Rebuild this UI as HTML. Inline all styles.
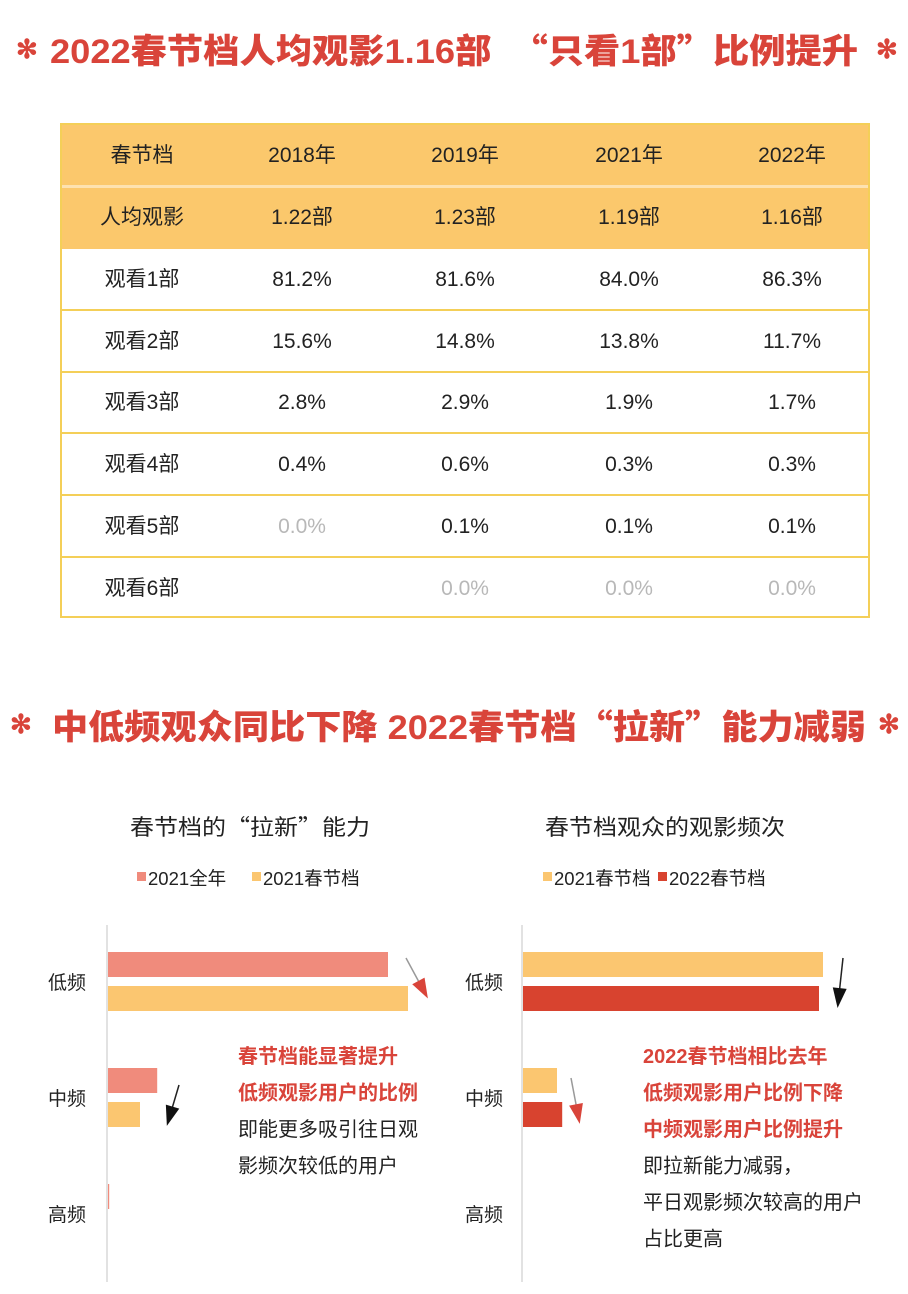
<!DOCTYPE html>
<html><head><meta charset="utf-8">
<style>
*{margin:0;padding:0;box-sizing:border-box}
body{width:908px;height:1294px;background:#fff;position:relative;overflow:hidden;font-family:"Liberation Sans","Noto Sans CJK SC",sans-serif;color:#222}
.abs{position:absolute;white-space:nowrap}
.title{font-weight:900;color:#d9443a;font-size:34px;transform-origin:0 0;font-family:"Liberation Sans","Noto Sans CJK SC",sans-serif}
.q{font-family:"Noto Sans CJK SC",sans-serif}
.star{color:#d9443a;font-size:26px;font-weight:700}
.cell{position:absolute;text-align:center;font-size:21px;line-height:61px;color:#222}
.gray{color:#b8b8b8}
</style></head><body>
<div class="abs star" style="left:16px;top:34px">✻</div>
<div class="abs title" id="t1" style="left:50px;top:24px">2022春节档人均观影1.16部 &nbsp;<span class="q">“</span>只看1部<span class="q">”</span>比例提升</div>
<div class="abs star" style="left:876px;top:34px">✻</div>

<div id="table" style="position:absolute;left:60px;top:123px;width:810px;height:495px;border:2px solid #f4cf58"></div>

<div class="abs star" style="left:10px;top:709px">✻</div>
<div class="abs title" id="t2" style="left:52px;top:700px">中低频观众同比下降 2022春节档<span class="q">“</span>拉新<span class="q">”</span>能力减弱</div>
<div class="abs star" style="left:878px;top:709px">✻</div>

<svg id="chart" width="908" height="1294" style="position:absolute;left:0;top:0"></svg>

<script>
// table data
const headers=["春节档","2018年","2019年","2021年","2022年"];
const rowLabels=["人均观影","观看1部","观看2部","观看3部","观看4部","观看5部","观看6部"];
const tableValues=[
 ["1.22部","1.23部","1.19部","1.16部"],
 ["81.2%","81.6%","84.0%","86.3%"],
 ["15.6%","14.8%","13.8%","11.7%"],
 ["2.8%","2.9%","1.9%","1.7%"],
 ["0.4%","0.6%","0.3%","0.3%"],
 ["0.0%","0.1%","0.1%","0.1%"],
 ["","0.0%","0.0%","0.0%"]];
// left chart data
const categories=["低频","中频","高频"];
const leftSeriesNames=["2021全年","2021春节档"];
const leftA=[70,12.3,0.3];
const leftB=[75,8,0];
// right chart data
const rightSeriesNames=["2021春节档","2022春节档"];
const rightA=[75,8.5,0];
const rightB=[74,9.8,0];

function fit(id,w){const e=document.getElementById(id);const cw=e.getBoundingClientRect().width;e.style.transform='scaleX('+(w/cw)+')';}
fit('t1',808);fit('t2',814);

const tbl=document.getElementById('table');
const colC=[80,240,403,567,730];
function addCell(txt,x,y,cls,name){
 const d=document.createElement('div');
 d.className='cell '+(cls||'');
 d.style.left=(x-80)+'px';d.style.width='160px';d.style.top=y+'px';
 d.textContent=txt;
 
 
 tbl.appendChild(d);
}
const hb=document.createElement('div');
hb.style.cssText='position:absolute;left:0;top:0;width:806px;height:124px;background:#fbc86c';


tbl.appendChild(hb);
const sep=document.createElement('div');
sep.style.cssText='position:absolute;left:0;top:60px;width:806px;height:3px;background:#fde2b0';


tbl.appendChild(sep);
headers.forEach((h,i)=>addCell(h,colC[i],0,'','header-'+i));
let y=62;
rowLabels.forEach((lab,r)=>{
 addCell(lab,colC[0],y,'','row-label-'+r);
 tableValues[r].forEach((v,c)=>addCell(v,colC[c+1],y,(v==="0.0%")?'gray':'','cell-'+r+'-'+c));
 if(r>=1&&r<6){const l=document.createElement('div');
  l.style.cssText='position:absolute;left:0;width:806px;height:2px;background:#f4cf58;top:'+(y+60)+'px';
  
  
  tbl.appendChild(l);}
 y+=r==0?62:61.7;
});

const svg=document.getElementById('chart');
const NS='http://www.w3.org/2000/svg';
function el(tag,attrs,name,txt){const e=document.createElementNS(NS,tag);for(const k in attrs)e.setAttribute(k,attrs[k]);
 
 
 if(txt!==undefined)e.textContent=txt;svg.appendChild(e);return e;}
const scale=4;
const catY=[952,1068,1184];
const CJK='"Noto Sans CJK SC","Liberation Sans",sans-serif';
function drawChart(x0,labelX,title,titleX,titleW,names,colors,legX,A,B,pfx){
 el('text',{x:titleX,y:835,'font-size':22,fill:'#222','font-family':CJK,textLength:titleW,lengthAdjust:'spacingAndGlyphs'},pfx+'-title',title);
 let lx=legX;
 names.forEach((n,i)=>{
  el('rect',{x:lx,y:872,width:9,height:9,fill:colors[i]},pfx+'-legend-swatch-'+i);
  el('text',{x:lx+11,y:885,'font-size':18.5,fill:'#222'},pfx+'-legend-'+i,n);
  lx+=n.length>7?140:115;
 });
 el('line',{x1:x0,y1:925,x2:x0,y2:1282,stroke:'#e2e2e2','stroke-width':2},pfx+'-axis');
 categories.forEach((c,i)=>{
  el('text',{x:labelX,y:catY[i]+37,'font-size':19,fill:'#222'},pfx+'-cat-'+i,c);
  if(A[i]>0)el('rect',{x:x0+1,y:catY[i],width:A[i]*scale,height:25,fill:colors[0]},pfx+'-bar-a-'+i);
  if(B[i]>0)el('rect',{x:x0+1,y:catY[i]+34,width:B[i]*scale,height:25,fill:colors[1]},pfx+'-bar-b-'+i);
 });
}
drawChart(107,48,'春节档的“拉新”能力',130,240,leftSeriesNames,['#f08b7c','#fbc670'],137,leftA,leftB,'left');
drawChart(522,465,'春节档观众的观影频次',545,240,rightSeriesNames,['#fbc670','#d8432f'],543,rightA,rightB,'right');

function arrow(x1,y1,x2,y2,col,name){
 el('line',{x1:x1,y1:y1,x2:x2,y2:y2,stroke:col==='#d9443a'?'#999':'#222','stroke-width':1.5},name+'-shaft');
 const dx=x2-x1,dy=y2-y1,L=Math.hypot(dx,dy),ux=dx/L,uy=dy/L;
 const px=-uy,py=ux,hl=16,hw=7;
 el('polygon',{points:`${x2+ux*4},${y2+uy*4} ${x2-ux*hl+px*hw},${y2-uy*hl+py*hw} ${x2-ux*hl-px*hw},${y2-uy*hl-py*hw}`,fill:col},name+'-head');
}
arrow(406,958,426,995,'#d9443a','left-low-arrow');
arrow(179,1085,168,1122,'#111','left-mid-arrow');
arrow(843,958,838,1004,'#111','right-low-arrow');
arrow(571,1078,579,1120,'#d9443a','right-mid-arrow');

const leftNote=[["春节档能显著提升",1],["低频观影用户的比例",1],["即能更多吸引往日观",0],["影频次较低的用户",0]];
leftNote.forEach((l,i)=>el('text',{x:238,y:1063+i*36.5,'font-size':20,fill:l[1]?'#d9443a':'#222','font-weight':l[1]?700:400},'left-note-'+i,l[0]));
const rightNote=[["2022春节档相比去年",1],["低频观影用户比例下降",1],["中频观影用户比例提升",1],["即拉新能力减弱，",0],["平日观影频次较高的用户",0],["占比更高",0]];
rightNote.forEach((l,i)=>el('text',{x:643,y:1063+i*36.5,'font-size':20,fill:l[1]?'#d9443a':'#222','font-weight':l[1]?700:400},'right-note-'+i,l[0]));
</script>
</body></html>
